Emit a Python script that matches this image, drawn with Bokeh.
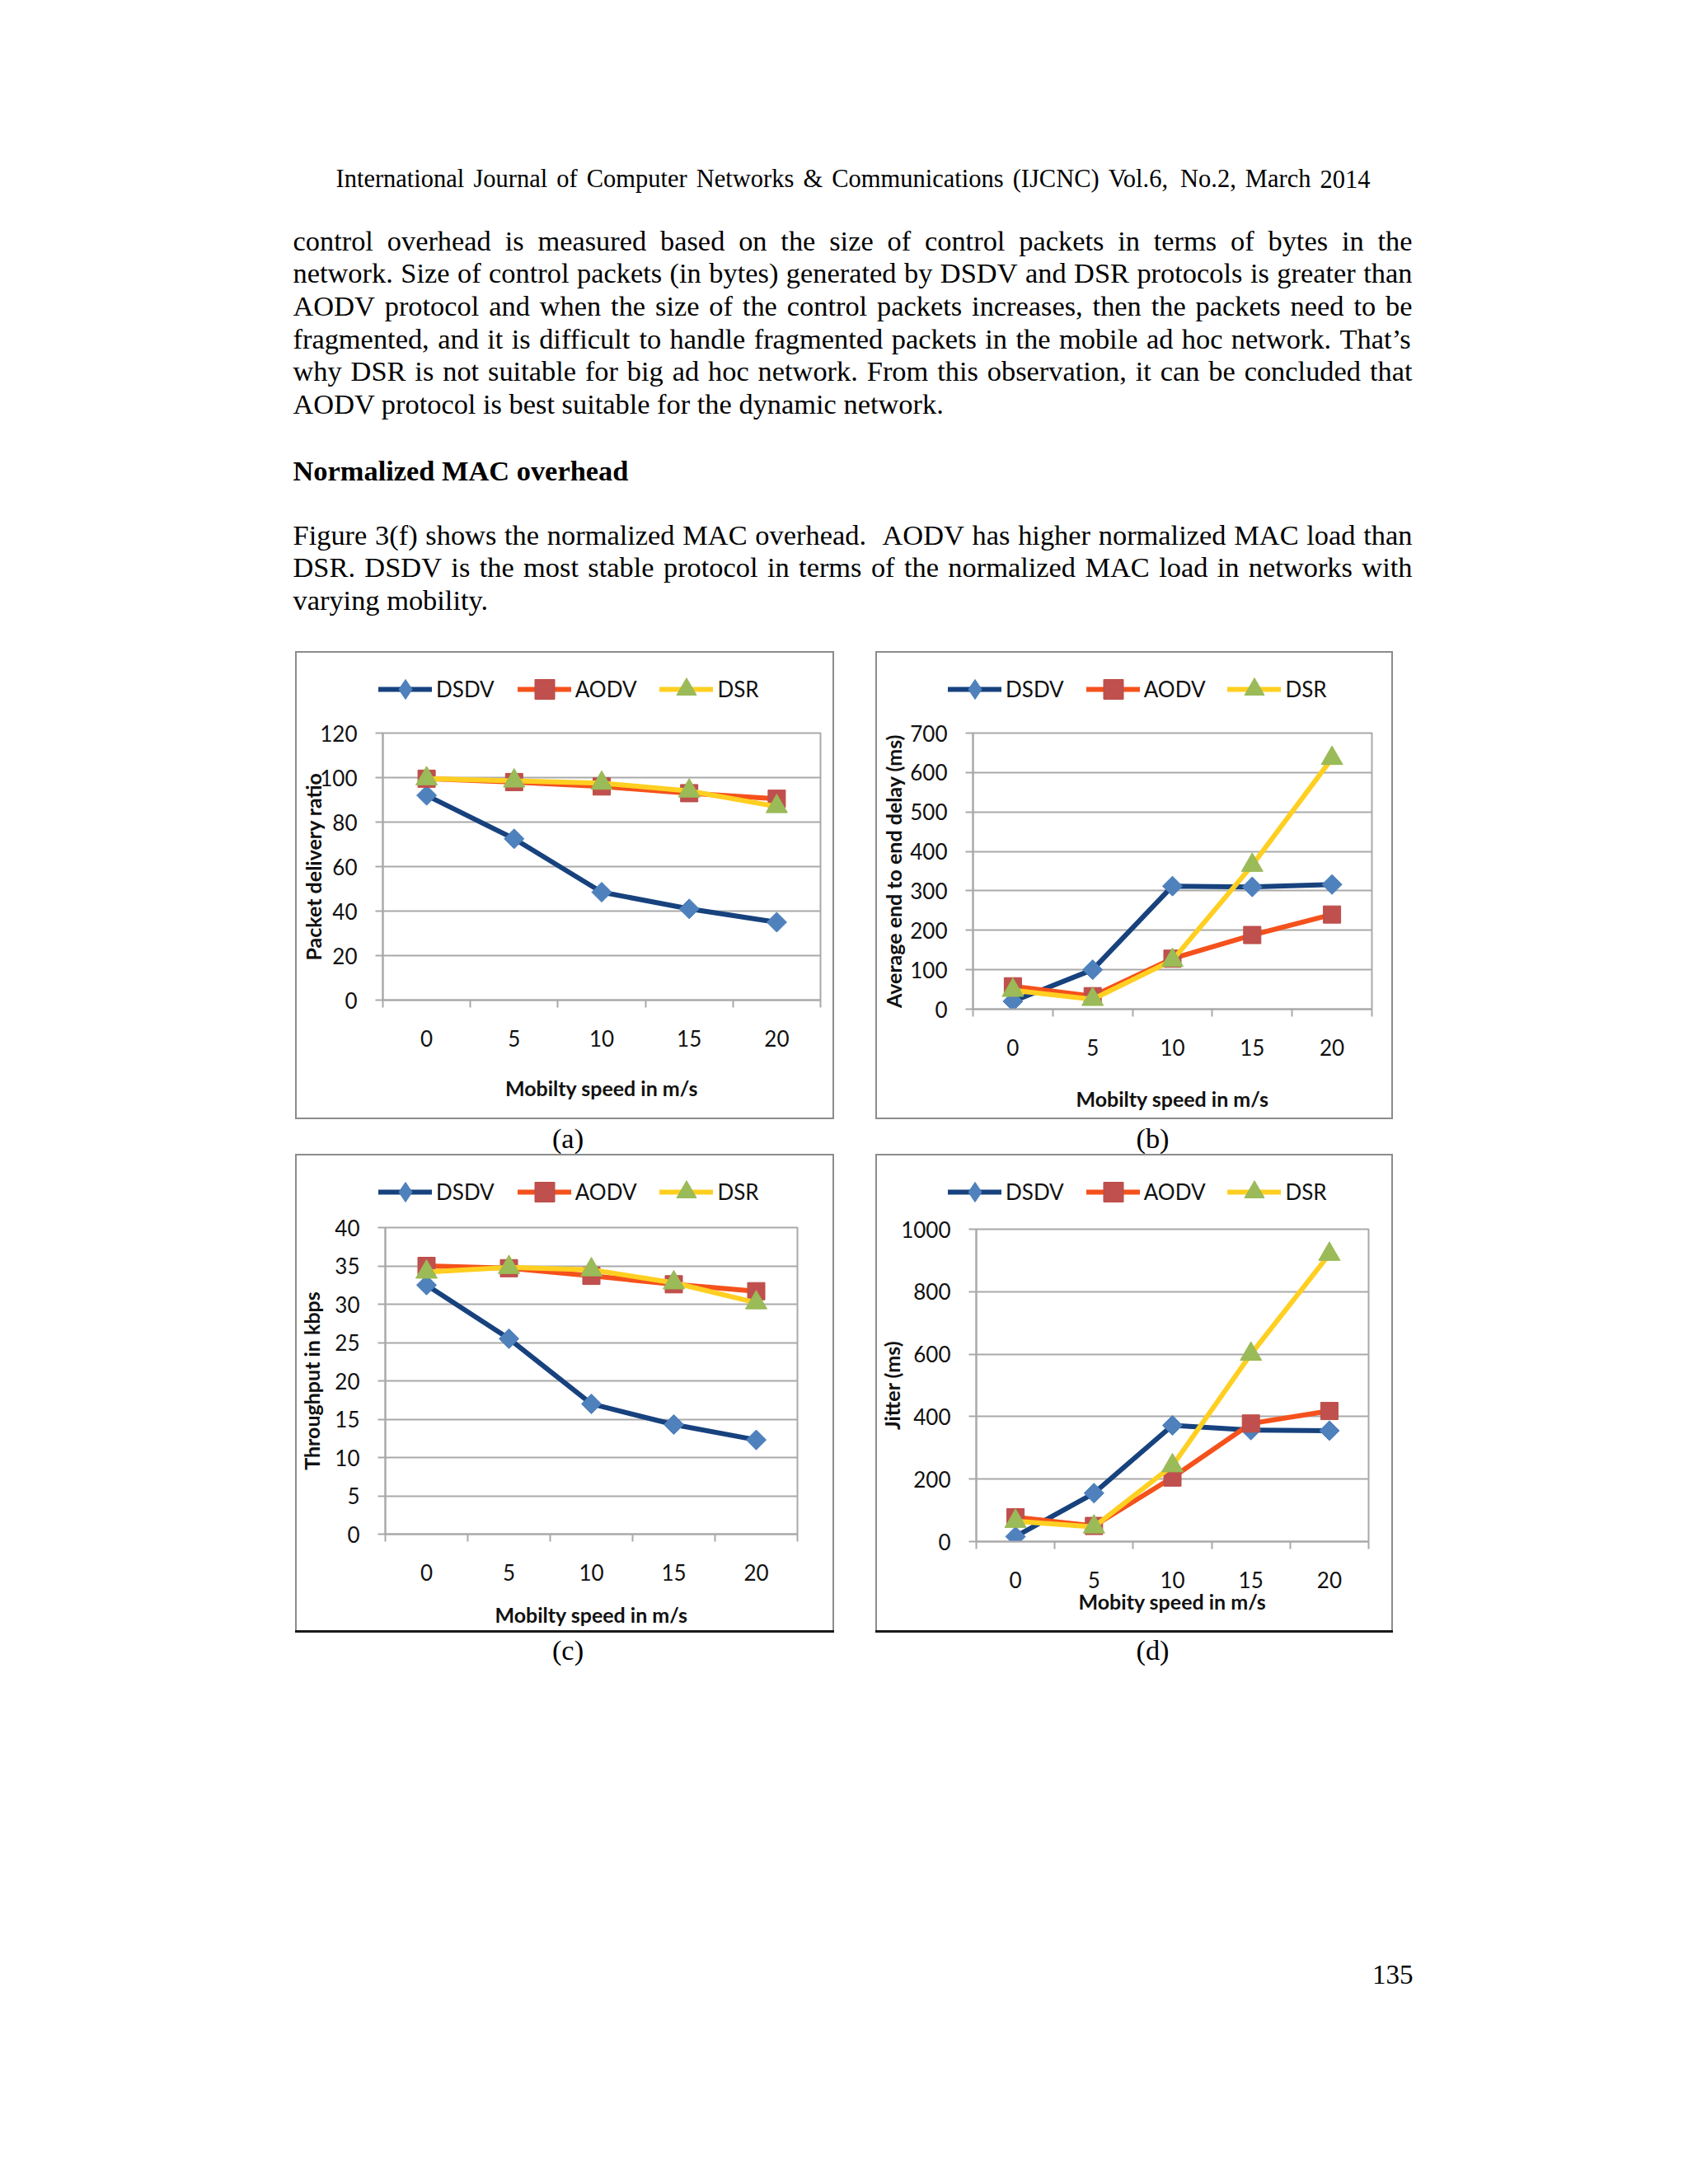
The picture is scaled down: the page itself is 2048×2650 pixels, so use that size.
import numpy as np
from bokeh.plotting import figure
from bokeh.models import (Range1d, FixedTicker, SingleIntervalTicker, Legend,
                          LegendItem, ColumnDataSource, Spacer)
from bokeh.layouts import column, row
from bokeh.embed import file_html
from bokeh.resources import INLINE
from bokeh.core.properties import value

# ---------------- data ----------------
speeds = ["0", "5", "10", "15", "20"]
protocols = ["DSDV", "AODV", "DSR"]

pdr_dsdv = [92, 72.5, 48.5, 41, 35]
pdr_aodv = [99.5, 98, 96, 93, 90.5]
pdr_dsr = [99.5, 98.5, 97.5, 94, 87]

delay_dsdv = [20, 100, 312, 310, 316]
delay_aodv = [58, 33, 128, 188, 240]
delay_dsr = [48, 25, 124, 365, 636]

thr_dsdv = [32.5, 25.5, 17, 14.3, 12.3]
thr_aodv = [35, 34.7, 33.7, 32.6, 31.7]
thr_dsr = [34.2, 34.8, 34.5, 32.8, 30.2]

jit_dsdv = [16, 155, 372, 357, 355]
jit_aodv = [78, 50, 205, 378, 418]
jit_dsr = [65, 47, 243, 600, 920]

header = "International Journal of Computer Networks & Communications (IJCNC) Vol.6, No.2, March 2014"
para1 = [
    "control overhead is measured based on the size of control packets in terms of bytes in the",
    "network. Size of control packets (in bytes) generated by DSDV and DSR protocols is greater than",
    "AODV protocol and when the size of the control packets increases, then the packets need to be",
    "fragmented, and it is difficult to handle fragmented packets in the mobile ad hoc network. That\u2019s",
    "why DSR is not suitable for big ad hoc network. From this observation, it can be concluded that",
    "AODV protocol is best suitable for the dynamic network.",
]
heading = "Normalized MAC overhead"
para2 = [
    "Figure 3(f) shows the normalized MAC overhead.  AODV has higher normalized MAC load than",
    "DSR. DSDV is the most stable protocol in terms of the normalized MAC load in networks with",
    "varying mobility.",
]
captions = ["(a)", "(b)", "(c)", "(d)"]
page_number = "135"

# ---------------- styles ----------------
PAGE_W = 2048
SERIF = "Liberation Serif"
SANS = "Lato"
LINE_COLORS = ["#17427e", "#f5511c", "#ffcf21"]
MARK_FILL = ["#4f81bd", "#c0504d", "#9bbb59"]
MARK_LINE = ["#4a7ebb", "#bb4c49", "#98b855"]
MARKERS = ["square", "square", "triangle"]
LEG_MARKERS = ["diamond", "square", "triangle"]
MARK_ANGLE = [np.pi / 4, 0, 0]
MARK_SIZE = [17, 21, 26]
GRID = "#a9a9a9"
BOX = "#8c8c8c"
BASE_SHIFT = 0.33  # em, correction for the renderer's baseline placement
LEG_GH = 60

W = {' ': 250, '!': 333, '(': 333, ')': 333, ',': 250, '-': 333, '.': 250, '/': 278,
     ':': 278, ';': 278, '&': 778, '\u2019': 333, "'": 180,
     'A': 722, 'B': 667, 'C': 667, 'D': 722, 'E': 611, 'F': 556, 'G': 722, 'H': 722,
     'I': 333, 'J': 389, 'K': 722, 'L': 611, 'M': 889, 'N': 722, 'O': 722, 'P': 556,
     'Q': 722, 'R': 667, 'S': 556, 'T': 611, 'U': 722, 'V': 722, 'W': 944, 'X': 722,
     'Y': 722, 'Z': 611,
     'a': 444, 'b': 500, 'c': 444, 'd': 500, 'e': 444, 'f': 333, 'g': 500, 'h': 500,
     'i': 278, 'j': 278, 'k': 500, 'l': 278, 'm': 778, 'n': 500, 'o': 500, 'p': 500,
     'q': 500, 'r': 333, 's': 389, 't': 278, 'u': 500, 'v': 500, 'w': 722, 'x': 500,
     'y': 500, 'z': 444}


def em(s):
    return sum(W.get(c, 500) for c in s) / 1000.0


def justify(line, x0, x1, fs):
    words = line.split(" ")
    widths = [em(w) * fs for w in words]
    gap = (x1 - x0 - sum(widths)) / (len(words) - 1)
    out = []
    x = x0
    for w, wd in zip(words, widths):
        if w:
            out.append((x, w))
        x += wd + gap
    return out


def blank_fig(w, h, xr=None, yr=None):
    p = figure(width=w, height=h, x_range=xr or Range1d(0, w), y_range=yr or Range1d(h, 0),
               x_axis_type=None, y_axis_type=None, output_backend="svg",
               toolbar_location=None, min_border=0, frame_align=False)
    p.outline_line_color = None
    p.background_fill_color = "white"
    p.border_fill_color = "white"
    return p


def put_text(p, top, items, fs, style="normal", align="left"):
    src = ColumnDataSource(dict(x=[it[0] for it in items],
                                y=[it[1] - top - BASE_SHIFT * fs for it in items],
                                t=[it[2] for it in items]))
    p.text(x="x", y="y", text="t", source=src, text_font=value(SERIF),
           text_font_size=value("%.1fpx" % fs), text_font_style=style, text_align=align,
           text_baseline="alphabetic", text_color="black")


def bar(w, h, color):
    return Spacer(width=w, height=h, styles={"background-color": color})


# ---------------- top text block ----------------
BODY_FS = 34.4
L, R = 355, 1713
top = blank_fig(PAGE_W, 790)
items = [(x, 226.7, w) for x, w in justify(header, 407, 1662, 30.5)]
put_text(top, 0, items, 30.5)
items = []
for i, line in enumerate(para1):
    y = 302.5 + 39.7 * i
    if i < len(para1) - 1:
        items += [(x, y, w) for x, w in justify(line, L, R, BODY_FS)]
    else:
        items.append((L, y, line))
for i, line in enumerate(para2):
    y = 660 + 39.2 * i
    if i < len(para2) - 1:
        items += [(x, y, w) for x, w in justify(line, L, R, BODY_FS)]
    else:
        items.append((L, y, line))
put_text(top, 0, items, BODY_FS)
put_text(top, 0, [(L, 581.7, heading)], BODY_FS, style="bold")


# ---------------- charts ----------------
def chart(box, frame, ymax, ystep, series, ytitle, ystand, xtitle, xstand,
          leg_x, leg_cy, leg_spacing, bottom_color, bottom_w):
    fx0, fy0, fx1, fy1 = box
    px0, py0, px1, py1 = frame
    ix0, ix1 = fx0 + 2, fx1 - 2
    iy0, iy1 = fy0 + 2, fy1 - bottom_w
    iw = ix1 - ix0
    leg_bottom = py0 - 20
    xpos = [i + 0.5 for i in range(len(speeds))]

    # legend strip (its own small canvas; series drawn out of view, used only as swatches)
    lf = blank_fig(iw, leg_bottom - iy0, xr=Range1d(-3, -2), yr=Range1d(-3, -2))
    leg_items = []
    for i, (name, ys) in enumerate(zip(protocols, series)):
        src = ColumnDataSource(dict(x=xpos, y=ys))
        lr = lf.line("x", "y", source=src, line_color=LINE_COLORS[i], line_width=6,
                     line_cap="round")
        sr = lf.scatter("x", "y", source=src, marker=LEG_MARKERS[i],
                        fill_color=MARK_FILL[i], line_color=MARK_LINE[i], line_width=1)
        leg_items.append(LegendItem(label=name, renderers=[lr, sr]))
    leg = Legend(items=leg_items, location=(leg_x - ix0, leg_bottom - (leg_cy + LEG_GH / 2.0)),
                 orientation="horizontal", glyph_width=65, glyph_height=LEG_GH, padding=0,
                 margin=0, spacing=leg_spacing, label_standoff=5, border_line_color=None,
                 background_fill_alpha=0, label_text_font=SANS,
                 label_text_font_size="26px", label_text_color="#111111")
    lf.add_layout(leg)

    p = figure(width=iw, height=iy1 - leg_bottom,
               x_range=Range1d(0, len(speeds)), y_range=Range1d(0, ymax),
               output_backend="svg", toolbar_location=None, frame_align=False,
               min_border_left=px0 - ix0, min_border_right=ix1 - px1,
               min_border_top=py0 - leg_bottom, min_border_bottom=iy1 - py1)
    p.background_fill_color = "white"
    p.border_fill_color = "white"
    p.outline_line_color = GRID
    p.outline_line_width = 2

    p.xaxis.ticker = FixedTicker(ticks=xpos, minor_ticks=list(range(len(speeds) + 1)))
    p.xaxis.major_label_overrides = {x: s for x, s in zip(xpos, speeds)}
    p.xaxis.major_tick_line_color = None
    p.xaxis.major_tick_out = 9
    p.xaxis.minor_tick_out = 9
    p.xaxis.minor_tick_in = 0
    p.xaxis.minor_tick_line_color = GRID
    p.xaxis.minor_tick_line_width = 2
    p.xaxis.major_label_standoff = 27
    p.xaxis.axis_label = xtitle
    p.xaxis.axis_label_standoff = xstand

    yt = SingleIntervalTicker(interval=ystep, num_minor_ticks=0)
    p.yaxis.ticker = yt
    p.ygrid.ticker = yt
    p.yaxis.major_tick_out = 9
    p.yaxis.major_tick_in = 0
    p.yaxis.major_tick_line_color = GRID
    p.yaxis.major_tick_line_width = 2
    p.yaxis.minor_tick_line_color = None
    p.yaxis.major_label_standoff = 22
    p.yaxis.axis_label = ytitle
    p.yaxis.axis_label_standoff = ystand

    for ax in (p.xaxis, p.yaxis):
        ax.axis_line_color = GRID
        ax.axis_line_width = 2
        ax.major_label_text_font = SANS
        ax.major_label_text_font_size = "26px"
        ax.major_label_text_color = "#111111"
        ax.axis_label_text_font = SANS
        ax.axis_label_text_font_style = "bold"
        ax.axis_label_text_font_size = "25px"
        ax.axis_label_text_color = "#111111"

    p.xgrid.visible = False
    p.ygrid.grid_line_color = GRID
    p.ygrid.grid_line_width = 2

    for i, ys in enumerate(series):
        src = ColumnDataSource(dict(x=xpos, y=ys))
        p.line("x", "y", source=src, line_color=LINE_COLORS[i], line_width=6,
               line_cap="round", line_join="round")
        p.scatter("x", "y", source=src, marker=MARKERS[i], size=MARK_SIZE[i],
                  angle=MARK_ANGLE[i], fill_color=MARK_FILL[i],
                  line_color=MARK_LINE[i], line_width=1)

    ih = iy1 - iy0
    inner = column(lf, p)
    return column(bar(fx1 - fx0, 2, BOX),
                  row(bar(2, ih, BOX), inner, bar(2, ih, BOX)),
                  bar(fx1 - fx0, bottom_w, bottom_color))


ca = chart((358, 790, 1012, 1358), (464, 889, 995, 1213), 120, 20,
           [pdr_dsdv, pdr_aodv, pdr_dsr], "Packet delivery ratio", -10,
           "Mobilty speed in m/s", 32, 459, 835.5, 28, BOX, 2)
cb = chart((1062, 790, 1690, 1358), (1180, 889, 1664, 1224), 700, 100,
           [delay_dsdv, delay_aodv, delay_dsr], "Average end to end delay (ms)", 2,
           "Mobilty speed in m/s", 34, 1150, 835.5, 27, BOX, 2)
cc = chart((358, 1400, 1012, 1981), (465, 1489, 967, 1861), 40, 5,
           [thr_dsdv, thr_aodv, thr_dsr], "Throughput in kbps", 10,
           "Mobilty speed in m/s", 23, 459, 1445.6, 28, "#1a1a1a", 3)
cd = chart((1062, 1400, 1690, 1981), (1184, 1491, 1660, 1870), 1000, 200,
           [jit_dsdv, jit_aodv, jit_dsr], "Jitter (ms)", -7,
           "Mobity speed in m/s", -2, 1150, 1445.6, 27, "#1a1a1a", 3)

RS = PAGE_W - 358 - 654 - 50 - 628
row1 = row(Spacer(width=358, height=568), ca, Spacer(width=50, height=568), cb,
           Spacer(width=RS, height=568))
row2 = row(Spacer(width=358, height=581), cc, Spacer(width=50, height=581), cd,
           Spacer(width=RS, height=581))

cap = blank_fig(PAGE_W, 1400 - 1358)
put_text(cap, 1358, [(688.5, 1391.7, captions[0]), (1398, 1391.7, captions[1])],
         BODY_FS, align="center")

bottom = blank_fig(PAGE_W, 2650 - 1981)
put_text(bottom, 1981, [(688.5, 2013, captions[2]), (1398, 2013, captions[3])],
         BODY_FS, align="center")
put_text(bottom, 1981, [(1714, 2406.7, page_number)], 33, align="right")

layout = column(top, row1, cap, row2, bottom)
open("out.html", "w").write(file_html(layout, INLINE))
